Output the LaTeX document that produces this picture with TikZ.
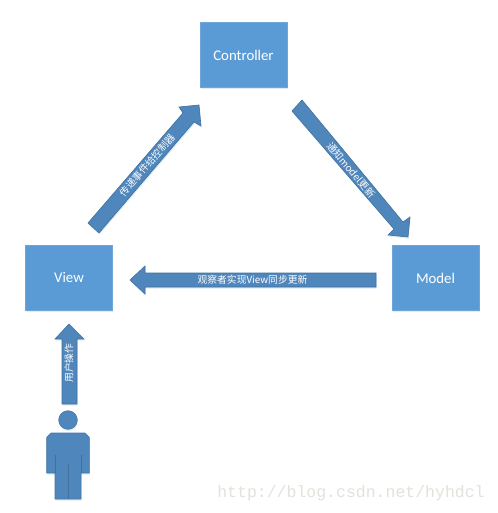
\documentclass[tikz,border=0pt]{standalone}
\usepackage{fontspec}
\setmainfont{Carlito}
\newfontfamily\cjkfont{Noto Sans CJK SC}
\newfontfamily\wmfont{Liberation Mono}
\usetikzlibrary{shadows}
\definecolor{boxfill}{HTML}{5B9BD5}
\definecolor{boxedge}{HTML}{6FA5D8}
\definecolor{arrowfill}{HTML}{4F86BB}
\definecolor{arrowedge}{HTML}{41719C}
\definecolor{wmcolor}{HTML}{E3E2DC}
\tikzset{
  softshadow/.style={drop shadow={shadow xshift=0.6pt,shadow yshift=-1.6pt,opacity=.18,fill=boxfill}},
  mvcbox/.style={rectangle,fill=boxfill,draw=boxedge,line width=.6pt,minimum width=87pt,minimum height=65pt,inner sep=0pt,
    text=white,font=\fontsize{14.8}{16}\selectfont,softshadow},
  blockarrow/.style={fill=arrowfill,draw=arrowedge,line width=.6pt,line join=miter,softshadow},
  arrowlabel/.style={text=white,inner sep=0pt,font=\cjkfont\fontsize{9.8}{11}\selectfont},
  personline/.style={draw=arrowedge,line width=.6pt},
}
\begin{document}
\begin{tikzpicture}[x=1pt,y=-1pt]
\useasboundingbox (0,0) rectangle (497,513);
\fill[white] (0,0) rectangle (497,513);
% boxes
\node[mvcbox] (controller) at (243.5,55) {Controller};
\node[mvcbox] (view) at (69,277.5) {View};
\node[mvcbox] (model) at (435.5,278) {Model};
% block arrows
\path[blockarrow] (88,223) -- (183,113) -- (179,107) -- (199,105) -- (201,126) -- (194,122) -- (99,233) -- cycle;
\node[arrowlabel,rotate=49] (lbla) at (147,165) {传递事件给控制器};
\path[blockarrow] (292,111) -- (302,100) -- (403,222) -- (410,217) -- (408,237) -- (388,235) -- (394,229) -- cycle;
\node[arrowlabel,rotate=-50] (lblb) at (351,170) {通知model更新};
\path[blockarrow] (376,273) -- (145,273) -- (145,266) -- (130,280) -- (145,294) -- (145,287) -- (376,287) -- cycle;
\node[arrowlabel] (lblc) at (252.5,280) {观察者实现View同步更新};
\path[blockarrow] (62,404) -- (62,339) -- (55,339) -- (69,324) -- (84,339) -- (77,339) -- (77,404) -- cycle;
\node[arrowlabel,rotate=90] (lbld) at (69,363) {用户操作};
% person
\path[fill=arrowfill,draw=arrowedge!70!arrowfill,line width=.6pt,softshadow] (68,420) circle (9.3);
\path[fill=arrowfill,draw=arrowedge!70!arrowfill,line width=.6pt,softshadow]
  (51,433) -- (85,433) -- (89.3,437.5) -- (89.3,473) -- (81,473) -- (81,499) -- (55,499) -- (55,473) -- (46.7,473) -- (46.7,437.5) -- cycle;
\draw[personline] (55,455) -- (55,473);
\draw[personline] (81,455) -- (81,473);
\draw[personline] (68,464) -- (68,499);
% watermark
\node[text=wmcolor,inner sep=0pt,font=\wmfont\fontsize{16.5}{18}\selectfont] (wm) at (351,493) {http://blog.csdn.net/hyhdcl};
\end{tikzpicture}
\end{document}
